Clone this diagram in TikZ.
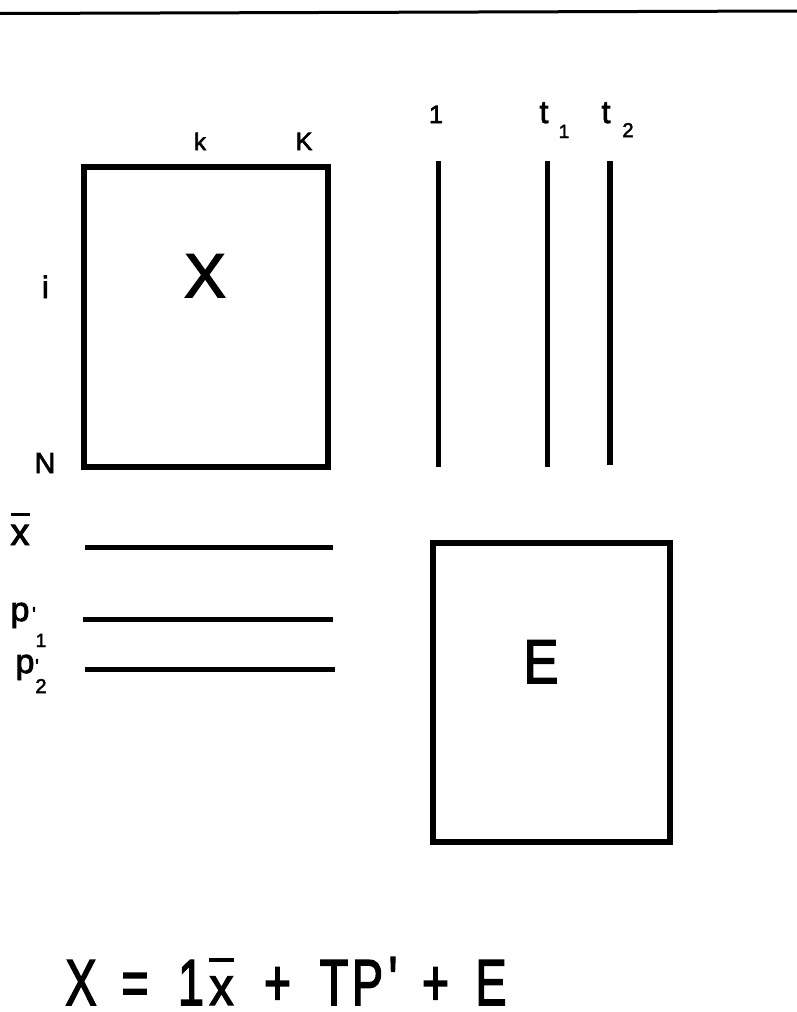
\documentclass[tikz,border=0pt]{standalone}
\usepackage{fontspec}
\setmainfont{Liberation Sans}
\newfontfamily\semi{Liberation Sans}[FakeBold=2.5]
\newcommand{\fsz}[1]{\fontsize{#1}{#1}\selectfont}
\newsavebox{\barredbox}
\newcommand{\barred}[3]{\sbox{\barredbox}{#1}\vbox{\offinterlineskip\hbox{\vrule width \wd\barredbox height #2 depth 0pt}\kern #3\copy\barredbox}}
\newcommand{\sq}[1]{\raisebox{0pt}[\height][0pt]{\scalebox{0.72}[1]{#1}}}
\tikzset{
  lab/.style={inner sep=0pt, outer sep=0pt, anchor=base, text=black},
  matbox/.style={draw=black, line width=6pt, inner sep=0pt, outer sep=0pt, fill=none},
  vec/.style={draw=black, line width=5.5pt},
}
\begin{document}
\begin{tikzpicture}[x=1pt, y=-1pt]
\useasboundingbox (0,0) rectangle (797,1012);
\fill[white] (0,0) rectangle (797,1012);
% top rule
\coordinate (tl) at (0,13.5);
\coordinate (tr) at (797,11);
\draw[line width=3pt] (tl) -- (tr);
% X matrix
\node[matbox, minimum width=244pt, minimum height=300pt] (Xbox) at (205.5,316.5) {};
\node[lab, font=\semi\fsz{62}] (Xlbl) at (205,297) {X};
\node[lab, font=\semi\fsz{24}] (klbl) at (200,150) {k};
\node[lab, font=\semi\fsz{25}] (Klbl) at (304,150) {K};
\node[lab, font=\semi\fsz{31}] (ilbl) at (45.5,298) {i};
\node[lab, font=\semi\fsz{29}] (Nlbl) at (45,473) {N};
% column vectors
\coordinate (c1t) at (438.5,161); \coordinate (c1b) at (438.5,467);
\coordinate (c2t) at (547.5,161); \coordinate (c2b) at (547.5,467);
\coordinate (c3t) at (610,161);   \coordinate (c3b) at (610,465);
\draw[vec] (c1t) -- (c1b);
\draw[vec] (c2t) -- (c2b);
\draw[vec] (c3t) -- (c3b);
\node[lab, font=\semi\fsz{25}] (onelbl) at (436,123) {1};
\node[lab, font=\semi\fsz{32}] (t1lbl) at (544,123) {t};
\node[lab, font=\semi\fsz{19}] (t1sub) at (564,138) {1};
\node[lab, font=\semi\fsz{32}] (t2lbl) at (606,123) {t};
\node[lab, font=\semi\fsz{20}] (t2sub) at (628,137) {2};
% row vectors
\coordinate (r1l) at (85,547);  \coordinate (r1r) at (333,547);
\coordinate (r2l) at (83,619);  \coordinate (r2r) at (333,619);
\coordinate (r3l) at (85,669);  \coordinate (r3r) at (335,669);
\draw[vec, line width=5pt] (r1l) -- (r1r);
\draw[vec, line width=5pt] (r2l) -- (r2r);
\draw[vec, line width=5pt] (r3l) -- (r3r);
\node[lab, font=\semi\fsz{38}] (xbarlbl) at (20,545) {\barred{x}{3pt}{9pt}};
\node[lab, font=\semi\fsz{34}] (p1lbl) at (20,621) {p};
\node[lab, font=\semi\fsz{20}] (p1pr) at (34,621) {\textquotesingle};
\node[lab, font=\semi\fsz{19}] (p1sub) at (41,647) {1};
\node[lab, font=\semi\fsz{34}] (p2lbl) at (25,673) {p};
\node[lab, font=\semi\fsz{20}] (p2pr) at (37,673) {\textquotesingle};
\node[lab, font=\semi\fsz{20}] (p2sub) at (41,693) {2};
% E matrix
\node[matbox, minimum width=237pt, minimum height=299pt] (Ebox) at (551.5,692.5) {};
\node[lab, font=\semi\fsz{62}] (Elbl) at (541,683) {\scalebox{0.85}[1]{E}};
% equation
\node[lab, font=\semi\fsz{65}] (eqX) at (81,1005) {\sq{X}};
\node[lab, font=\semi\fsz{65}] (eqeq) at (135,1005) {\sq{=}};
\node[lab, font=\semi\fsz{65}] (eqone) at (191,1005) {\sq{1}};
\node[lab, font=\semi\fsz{54}] (eqxbar) at (221.5,1005) {\barred{\sq{\scalebox{1.25}[1]{x}}}{4pt}{14pt}};
\node[lab, font=\semi\fsz{65}] (eqplusA) at (277.5,1005) {\sq{+}};
\node[lab, font=\semi\fsz{65}] (eqT) at (334,1005) {\sq{T}};
\node[lab, font=\semi\fsz{65}] (eqP) at (367.5,1005) {\sq{P}};
\node[lab, font=\semi\fsz{65}] (eqpr) at (393,1002) {\sq{\textquotesingle}};
\node[lab, font=\semi\fsz{65}] (eqplusB) at (435.5,1005) {\sq{+}};
\node[lab, font=\semi\fsz{65}] (eqE) at (491,1005) {\sq{E}};
\end{tikzpicture}
\end{document}
